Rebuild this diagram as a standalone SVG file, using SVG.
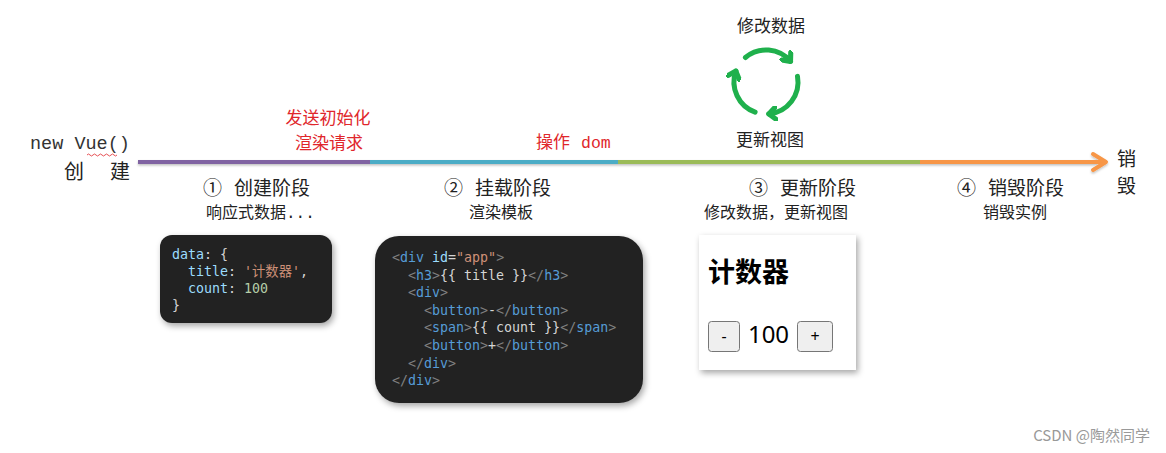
<svg xmlns="http://www.w3.org/2000/svg" width="1166" height="453" viewBox="0 0 1166 453">
<defs>
<style>
.cn{font-family:"Noto Sans CJK SC","Noto Sans",sans-serif;fill:#222}
.t{font-size:19px}
.s{font-size:16px}
.red{fill:#e0262b}
.mono{font-family:"Liberation Mono","Noto Sans CJK SC",monospace}
.code{font-family:"DejaVu Sans Mono","Noto Sans CJK SC",monospace;font-size:13.3px;fill:#d4d4d4}
.br{fill:#808080}.tg{fill:#569cd6}.at{fill:#9cdcfe}.st{fill:#ce9178}.nm{fill:#b5cea8}
.cyc{fill:none;stroke:#1fb04c;stroke-width:5;stroke-linecap:round}
.btn{fill:#efefef;stroke:#767676;stroke-width:1}
</style>
<filter id="sh" x="-20%" y="-20%" width="140%" height="140%">
<feDropShadow dx="2" dy="3" stdDeviation="3" flood-color="#000" flood-opacity="0.35"/>
</filter>
<filter id="lsh" x="-5%" y="-100%" width="110%" height="400%">
<feDropShadow dx="0" dy="1.5" stdDeviation="1" flood-color="#000" flood-opacity="0.25"/>
</filter>
<marker id="chev" viewBox="0 0 10 10" refX="6" refY="5" markerUnits="userSpaceOnUse" markerWidth="15" markerHeight="15" orient="auto">
<path d="M1.5,1 L6,5 L1.5,9" fill="none" stroke="#1fb04c" stroke-width="3.4" stroke-linecap="round" stroke-linejoin="round"/>
</marker>
</defs>
<rect width="1166" height="453" fill="#fff"/>

<g id="connectors" filter="url(#lsh)">
<line x1="138" y1="162" x2="370" y2="162" stroke="#8064a2" stroke-width="4"/>
<line x1="370" y1="162" x2="618" y2="162" stroke="#4bacc6" stroke-width="4"/>
<line x1="618" y1="162" x2="920" y2="162" stroke="#9bbb59" stroke-width="4"/>
<line x1="920" y1="162" x2="1104" y2="162" stroke="#f79646" stroke-width="4"/>
<path d="M1093,154 L1106,162 L1093,170" fill="none" stroke="#f79646" stroke-width="4" stroke-linecap="round" stroke-linejoin="round"/>
</g>

<g id="start">
<text class="mono" x="30" y="149" font-size="18.5" fill="#333">new Vue()</text>
<path d="M87,155 q1.5,-2 3,0 t3,0 t3,0 t3,0 t3,0 t3,0 t3,0 t3,0 t3,0 t3,0" fill="none" stroke="#e0262b" stroke-width="0.8"/>
<text class="cn" x="64" y="179" font-size="20">创</text>
<text class="cn" x="110" y="179" font-size="20">建</text>
<text class="cn red" x="328" y="124" font-size="17" text-anchor="middle">发送初始化</text>
<text class="cn red" x="329" y="149" font-size="17" text-anchor="middle">渲染请求</text>
</g>

<g id="stage1">
<text class="cn t" y="195"><tspan x="203">①</tspan><tspan x="234">创建阶段</tspan></text>
<text class="cn s" x="206" y="218">响应式数据<tspan font-family="Liberation Mono,monospace">...</tspan></text>
<g id="data-box">
<rect x="160" y="235" width="172" height="88" rx="12" fill="#232323" filter="url(#sh)"/>
<text class="code" x="172" y="259"><tspan class="at">data</tspan>: {</text>
<text class="code" x="188" y="276"><tspan class="at">title</tspan>: <tspan class="st">'计数器'</tspan>,</text>
<text class="code" x="188" y="293"><tspan class="at">count</tspan>: <tspan class="nm">100</tspan></text>
<text class="code" x="172" y="310">}</text>
</g>
</g>

<g id="stage2">
<text class="cn red" x="536" y="148" font-size="17">操作</text>
<text class="mono red" x="581" y="148" font-size="16.5">dom</text>
<text class="cn t" y="195"><tspan x="444">②</tspan><tspan x="475">挂载阶段</tspan></text>
<text class="cn s" x="469" y="218">渲染模板</text>
<g id="template-box">
<rect x="375" y="236" width="268" height="167" rx="24" fill="#232323" filter="url(#sh)"/>
<text class="code" x="392" y="262"><tspan class="br">&lt;</tspan><tspan class="tg">div</tspan> <tspan class="at">id</tspan>=<tspan class="st">"app"</tspan><tspan class="br">&gt;</tspan></text>
<text class="code" x="408" y="279.6"><tspan class="br">&lt;</tspan><tspan class="tg">h3</tspan><tspan class="br">&gt;</tspan>{{ title }}<tspan class="br">&lt;/</tspan><tspan class="tg">h3</tspan><tspan class="br">&gt;</tspan></text>
<text class="code" x="408" y="297.2"><tspan class="br">&lt;</tspan><tspan class="tg">div</tspan><tspan class="br">&gt;</tspan></text>
<text class="code" x="424" y="314.8"><tspan class="br">&lt;</tspan><tspan class="tg">button</tspan><tspan class="br">&gt;</tspan>-<tspan class="br">&lt;/</tspan><tspan class="tg">button</tspan><tspan class="br">&gt;</tspan></text>
<text class="code" x="424" y="332.4"><tspan class="br">&lt;</tspan><tspan class="tg">span</tspan><tspan class="br">&gt;</tspan>{{ count }}<tspan class="br">&lt;/</tspan><tspan class="tg">span</tspan><tspan class="br">&gt;</tspan></text>
<text class="code" x="424" y="350"><tspan class="br">&lt;</tspan><tspan class="tg">button</tspan><tspan class="br">&gt;</tspan>+<tspan class="br">&lt;/</tspan><tspan class="tg">button</tspan><tspan class="br">&gt;</tspan></text>
<text class="code" x="408" y="367.6"><tspan class="br">&lt;/</tspan><tspan class="tg">div</tspan><tspan class="br">&gt;</tspan></text>
<text class="code" x="392" y="385.2"><tspan class="br">&lt;/</tspan><tspan class="tg">div</tspan><tspan class="br">&gt;</tspan></text>
</g>
</g>

<g id="stage3">
<text class="cn" x="771" y="32" font-size="17" text-anchor="middle">修改数据</text>
<g id="cycle">
<path class="cyc" d="M745.4,57.5 A32,32 0 0 1 790.5,61.4" marker-end="url(#chev)"/>
<path class="cyc" d="M797.5,76.4 A32,32 0 0 1 768.8,113.9" marker-end="url(#chev)"/>
<path class="cyc" d="M755.1,112.1 A32,32 0 0 1 735.9,71.1" marker-end="url(#chev)"/>
</g>
<text class="cn" x="770" y="146" font-size="17" text-anchor="middle">更新视图</text>
<text class="cn t" y="195"><tspan x="749">③</tspan><tspan x="780">更新阶段</tspan></text>
<text class="cn s" x="704" y="218">修改数据，更新视图</text>
<g id="counter-box">
<rect x="699" y="235" width="157" height="135" fill="#fff" filter="url(#sh)"/>
<text x="708" y="282" font-family="Noto Sans CJK SC,sans-serif" font-size="27" font-weight="bold" fill="#000">计数器</text>
<rect class="btn" x="708.5" y="321.5" width="31" height="30" rx="3"/>
<text x="724" y="342" font-family="Noto Sans,sans-serif" font-size="16" fill="#000" text-anchor="middle">-</text>
<text x="768.5" y="343" font-family="Noto Sans,sans-serif" font-size="24" fill="#000" text-anchor="middle">100</text>
<rect class="btn" x="797.5" y="321.5" width="35" height="30" rx="3"/>
<text x="815" y="342" font-family="Noto Sans,sans-serif" font-size="16" fill="#000" text-anchor="middle">+</text>
</g>
</g>

<g id="stage4">
<text class="cn t" y="195"><tspan x="957">④</tspan><tspan x="988">销毁阶段</tspan></text>
<text class="cn s" x="983" y="218">销毁实例</text>
<text class="cn" x="1117" y="166" font-size="19">销</text>
<text class="cn" x="1117" y="193" font-size="19">毁</text>
</g>

<text x="1150" y="441" font-family="Noto Sans CJK SC,sans-serif" font-size="15" fill="#999" text-anchor="end">CSDN @陶然同学</text>
</svg>
